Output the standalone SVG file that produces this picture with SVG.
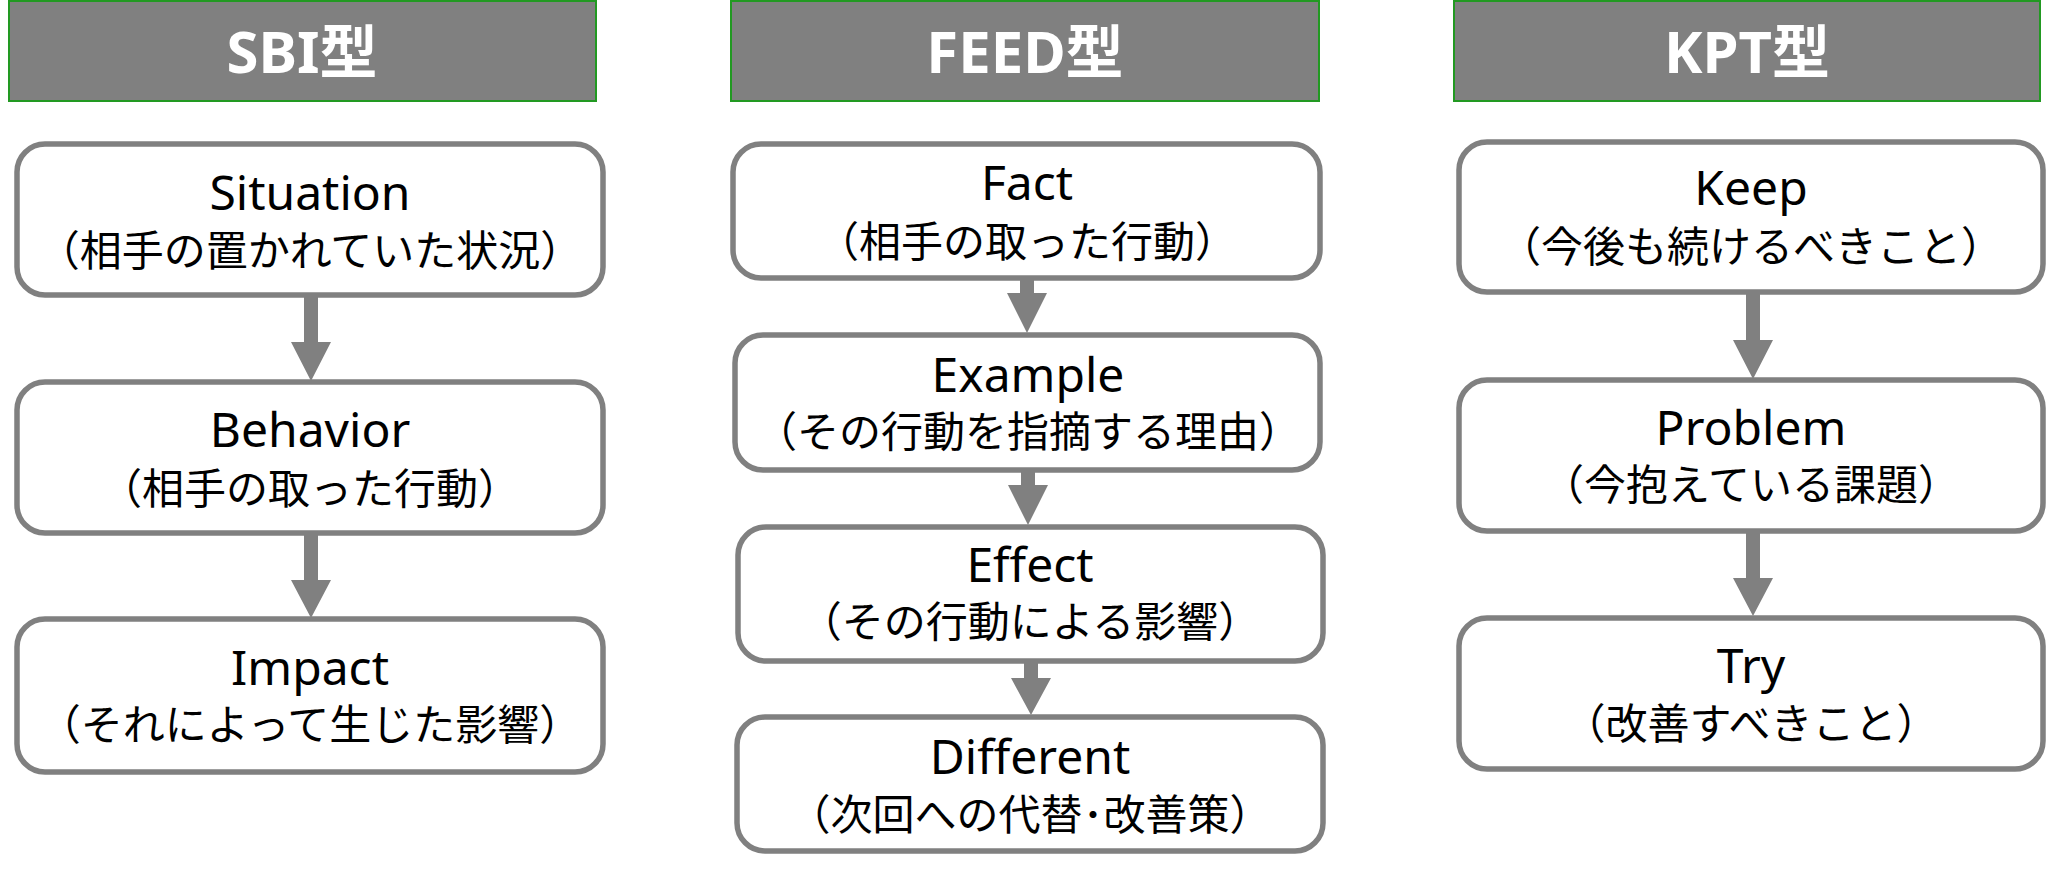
<svg xmlns="http://www.w3.org/2000/svg" width="2048" height="870" viewBox="0 0 2048 870">
<style>
.hdr{fill:#808080;stroke:#229922;stroke-width:2}
.ht{fill:#ffffff;font-family:"Noto Sans","Noto Sans CJK JP",sans-serif;font-weight:bold;font-size:58px;text-anchor:middle}
.box{fill:#ffffff;stroke:#808080;stroke-width:5.5}
.t1{fill:#000;font-family:"Noto Sans","Noto Sans CJK JP",sans-serif;font-size:48px;text-anchor:middle}
.t2{fill:#000;font-family:"Noto Sans CJK JP",sans-serif;font-size:42px;text-anchor:middle}
.arr{fill:#808080;stroke:none}
</style>
<rect width="2048" height="870" fill="#ffffff"/>
<g id="header-sbi"><rect class="hdr" x="9" y="1" width="587" height="100"/><text class="ht" x="302" y="73">SBI型</text></g>
<g id="header-feed"><rect class="hdr" x="731" y="1" width="588" height="100"/><text class="ht" x="1025" y="73">FEED型</text></g>
<g id="header-kpt"><rect class="hdr" x="1454" y="1" width="586" height="100"/><text class="ht" x="1747" y="73">KPT型</text></g>

<g id="connectors">
<path class="arr" d="M304,295 H318 V342 H331 L311,381 L291,342 H304 Z"/>
<path class="arr" d="M304,533 H318 V580 H331 L311,618 L291,580 H304 Z"/>
<path class="arr" d="M1020,278 H1034 V293 H1047 L1027,333 L1007,293 H1020 Z"/>
<path class="arr" d="M1021,470 H1035 V485 H1048 L1028,525 L1008,485 H1021 Z"/>
<path class="arr" d="M1024,661 H1038 V678 H1051 L1031,715 L1011,678 H1024 Z"/>
<path class="arr" d="M1746,292 H1760 V340 H1773 L1753,379 L1733,340 H1746 Z"/>
<path class="arr" d="M1746,531 H1760 V578 H1773 L1753,616 L1733,578 H1746 Z"/>
</g>

<g id="situation"><rect class="box" x="17" y="144" width="586" height="151" rx="28"/><text class="t1" x="310" y="210">Situation</text><text class="t2" x="310" y="266">（相手の置かれていた状況）</text></g>
<g id="behavior"><rect class="box" x="17" y="382" width="586" height="151" rx="28"/><text class="t1" x="310" y="447">Behavior</text><text class="t2" x="310" y="504">（相手の取った行動）</text></g>
<g id="impact"><rect class="box" x="17" y="619" width="586" height="153" rx="28"/><text class="t1" x="310" y="685">Impact</text><text class="t2" x="310" y="740">（それによって生じた影響）</text></g>

<g id="fact"><rect class="box" x="733" y="144" width="587" height="134" rx="28"/><text class="t1" x="1027" y="200">Fact</text><text class="t2" x="1027" y="257">（相手の取った行動）</text></g>
<g id="example"><rect class="box" x="735" y="335" width="585" height="135" rx="28"/><text class="t1" x="1028" y="392">Example</text><text class="t2" x="1028" y="447">（その行動を指摘する理由）</text></g>
<g id="effect"><rect class="box" x="738" y="527" width="585" height="134" rx="28"/><text class="t1" x="1030" y="582">Effect</text><text class="t2" x="1030" y="637">（その行動による影響）</text></g>
<g id="different"><rect class="box" x="737" y="717" width="586" height="134" rx="28"/><text class="t1" x="1030" y="774">Different</text><text class="t2" x="1030" y="830">（次回への代替･改善策）</text></g>

<g id="keep"><rect class="box" x="1459" y="142" width="584" height="150" rx="28"/><text class="t1" x="1751" y="205">Keep</text><text class="t2" x="1751" y="262">（今後も続けるべきこと）</text></g>
<g id="problem"><rect class="box" x="1459" y="380" width="584" height="151" rx="28"/><text class="t1" x="1751" y="445">Problem</text><text class="t2" x="1751" y="500">（今抱えている課題）</text></g>
<g id="try"><rect class="box" x="1459" y="618" width="584" height="151" rx="28"/><text class="t1" x="1751" y="683">Try</text><text class="t2" x="1751" y="739">（改善すべきこと）</text></g>
</svg>
